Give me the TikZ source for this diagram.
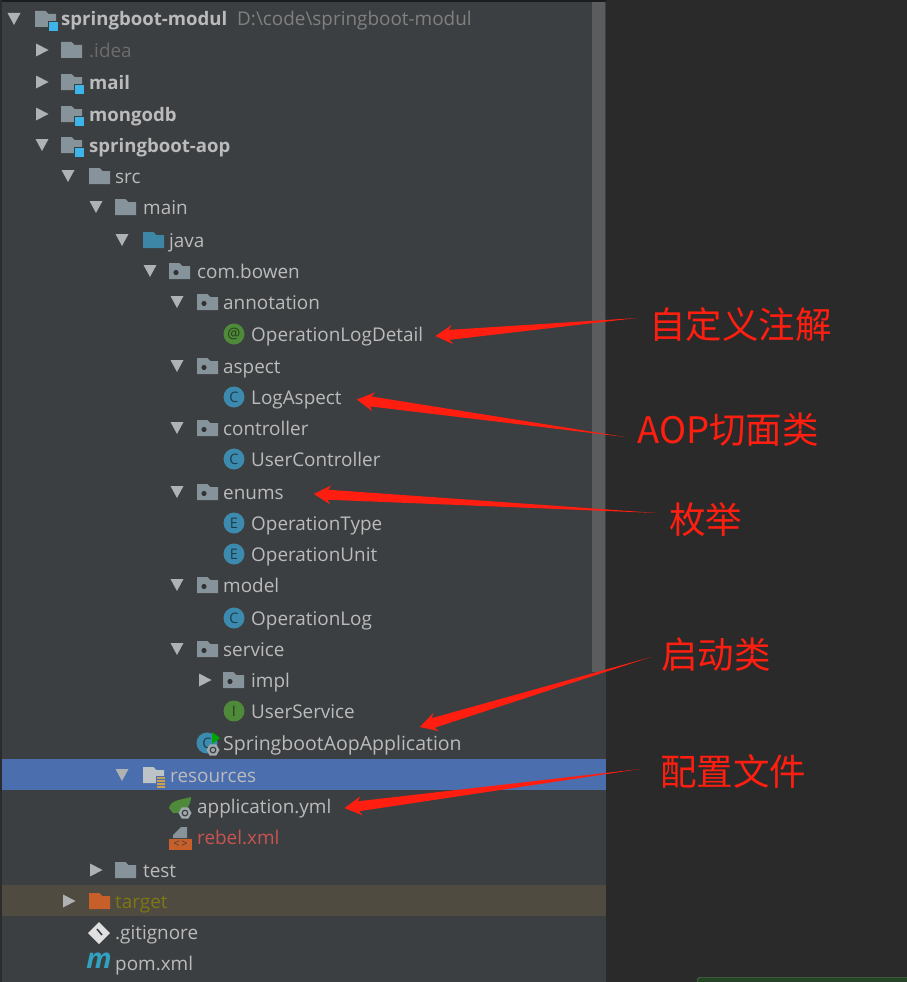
\documentclass[tikz,border=0pt]{standalone}
\usepackage{fontspec}
\setmainfont{Open Sans}
\newfontfamily\cjk{Noto Sans CJK SC}
\usetikzlibrary{calc}

\definecolor{panelbg}{HTML}{3C3F41}
\definecolor{editorbg}{HTML}{2A2A2A}
\definecolor{barcol}{HTML}{5A5C5E}
\definecolor{selrow}{HTML}{4B6EAF}
\definecolor{ignrow}{HTML}{4F4B41}
\definecolor{treecol}{HTML}{BBBBBB}
\definecolor{foldcol}{HTML}{87939A}
\definecolor{modcol}{HTML}{3DB5E8}
\definecolor{srccol}{HTML}{3D86A6}
\definecolor{orangecol}{HTML}{C75F2A}
\definecolor{greencol}{HTML}{4E8A3A}
\definecolor{bluecol}{HTML}{3C8AAE}
\definecolor{arrowred}{HTML}{FF1E10}
\definecolor{triancol}{HTML}{AFB1B3}
\definecolor{rebelcol}{HTML}{C75450}
\definecolor{stackcol}{HTML}{C8A050}

\tikzset{
  treetext/.style={anchor=base west,inner sep=0pt,yshift=-1pt,text=treecol,font=\fontsize{18.9}{20}\selectfont},
  boldtext/.style={treetext,font=\fontsize{18.6}{20}\selectfont\bfseries},
  redlabel/.style={anchor=west,inner sep=0pt,text=arrowred,font=\fontsize{36.5}{38}\selectfont\cjk},
  pics/opened/.style={code={\fill[triancol] (-6.5,-6) -- (6.5,-6) -- (0,6) -- cycle;}},
  pics/closed/.style={code={\fill[triancol] (-6,-6.5) -- (-6,6.5) -- (6.5,0) -- cycle;}},
  pics/folder/.style={code={\fill[#1] (-10.5,-8) -- (0,-8) -- (3,-5) -- (10.5,-5) -- (10.5,8) -- (-10.5,8) -- cycle;}},
  pics/folder/.default=foldcol,
  pics/module/.style={code={\pic {folder};
    \fill[panelbg] (2.5,2) rectangle (13,13);
    \fill[modcol] (3.5,3) rectangle (12,12);}},
  pics/package/.style={code={\pic {folder};
    \fill[panelbg!80!black] (-3.5,1.5) circle (2.6);}},
  pics/resfolder/.style={code={\pic {folder=foldcol!55!white};
    \fill[selrow] (2,1) rectangle (12,14);
    \foreach \yy in {2,5,8,11} \fill[stackcol] (3.5,\yy) rectangle (11.5,\yy+2);}},
  pics/badge/.style 2 args={code={\fill[#1] (0,0) circle (10.5);
    \node[inner sep=0pt,text=#1!45!black,font=\fontsize{14.5}{15}\selectfont] at (0,0) {#2};}},
  pics/gearmark/.style={code={\fill[foldcol!80!white] (0:6.5) -- (60:6.5) -- (120:6.5) -- (180:6.5) -- (240:6.5) -- (300:6.5) -- cycle;
    \draw[panelbg,line width=1.2pt] (0,0) circle (2.8);}}
}

% tapered red arrow, tail end first
\newcommand{\redarrow}[2]{
  \fill[arrowred] (#1) -- ($(#2)!14pt!(#1)!5pt!90:(#1)$) -- ($(#2)!17pt!(#1)!9.5pt!90:(#1)$) -- (#2)
    -- ($(#2)!17pt!(#1)!9.5pt!-90:(#1)$) -- ($(#2)!14pt!(#1)!5pt!-90:(#1)$) -- cycle;
}

\begin{document}
\begin{tikzpicture}[x=1pt,y=-1pt]
    \useasboundingbox (0,0) rectangle (907,982);
    \fill[editorbg] (0,0) rectangle (907,982);
    \fill[panelbg] (0,0) rectangle (606,982);
    \fill[black!55!panelbg] (0,0) rectangle (606,2);
    \fill[black!30!panelbg] (0,0) rectangle (2,982);
    \fill[barcol] (592,2) rectangle (605,672);
    \fill[selrow] (2,759) rectangle (606,790);
    \fill[ignrow] (2,885) rectangle (606,916);
    \draw[fill=green!12!editorbg,draw=green!22!gray,rounded corners=2pt] (697.5,977.5) rectangle (912,990);

    % project tree
    \pic at (14,19) {opened}; \pic at (45.5,19) {module};
    \node[boldtext] (root) at (61,25) {springboot-modul};
    \node[treetext,text=gray] (rootpath) at (237,25) {D:\textbackslash code\textbackslash springboot-modul};
    \pic at (42,50) {closed}; \pic at (71.5,50) {folder};
    \node[treetext,text=gray!85!black] (idea) at (89,56) {.idea};
    \pic at (42,82) {closed}; \pic at (71.5,82) {module};
    \node[boldtext] (mail) at (89,88) {mail};
    \pic at (42,114) {closed}; \pic at (71.5,114) {module};
    \node[boldtext] (mongodb) at (89,120) {mongodb};
    \pic at (42,145) {opened}; \pic at (71.5,145) {module};
    \node[boldtext] (aop) at (89,151) {springboot-aop};
    \pic at (68,176) {opened}; \pic at (99.5,176) {folder};
    \node[treetext] (src) at (115,182) {src};
    \pic at (96,207) {opened}; \pic at (125.5,207) {folder};
    \node[treetext] (main) at (143,213) {main};
    \pic at (122,240) {opened}; \pic at (153.5,240) {folder=srccol};
    \node[treetext] (java) at (169,246) {java};
    \pic at (150,271) {opened}; \pic at (179.5,271) {package};
    \node[treetext] (bowen) at (197,277) {com.bowen};
    \pic at (177,302) {opened}; \pic at (207.5,302) {package};
    \node[treetext] (annotation) at (223,308) {annotation};
    \pic at (234,334) {badge={greencol}{@}};
    \node[treetext] (detail) at (251,340) {OperationLogDetail};
    \pic at (177,366) {opened}; \pic at (207.5,366) {package};
    \node[treetext] (aspect) at (223,372) {aspect};
    \pic at (234,397) {badge={bluecol}{C}};
    \node[treetext] (logaspect) at (251,403) {LogAspect};
    \pic at (177,428) {opened}; \pic at (207.5,428) {package};
    \node[treetext] (controller) at (223,434) {controller};
    \pic at (234,459) {badge={bluecol}{C}};
    \node[treetext] (usercontroller) at (251,465) {UserController};
    \pic at (177,492) {opened}; \pic at (207.5,492) {package};
    \node[treetext] (enums) at (223,498) {enums};
    \pic at (234,523) {badge={bluecol}{E}};
    \node[treetext] (optype) at (251,529) {OperationType};
    \pic at (234,554) {badge={bluecol}{E}};
    \node[treetext] (opunit) at (251,560) {OperationUnit};
    \pic at (177,585) {opened}; \pic at (207.5,585) {package};
    \node[treetext] (model) at (223,591) {model};
    \pic at (234,618) {badge={bluecol}{C}};
    \node[treetext] (oplog) at (251,624) {OperationLog};
    \pic at (177,649) {opened}; \pic at (207.5,649) {package};
    \node[treetext] (service) at (223,655) {service};
    \pic at (205,680) {closed}; \pic at (233.5,680) {package};
    \node[treetext] (impl) at (251,686) {impl};
    \pic at (234,711) {badge={greencol}{I}};
    \node[treetext] (userservice) at (251,717) {UserService};
    \pic at (207,743) {badge={bluecol}{C}};
    \fill[green!65!black] (212,732) -- (220,738) -- (212,744) -- cycle;
    \pic at (213,750) {gearmark};
    \node[treetext,font=\fontsize{19.5}{20}\selectfont] (app) at (223,749) {SpringbootAopApplication};
    \pic at (122,775) {opened};
    \pic at (153.5,775) {resfolder};
    \node[treetext] (resources) at (170,781) {resources};
    \fill[greencol] (169,808) .. controls (171,800) and (180,800) .. (191,797) .. controls (191,806) and (184,814) .. (173,813) -- cycle;
    \pic at (185,813) {gearmark};
    \node[treetext] (yml) at (197,812) {application.yml};
    \fill[foldcol] (173,838) -- (173,835) -- (181,827) -- (187,827) -- (187,838) -- cycle;
    \fill[orangecol] (169,839) rectangle (192,850);
    \node[inner sep=0pt,text=panelbg,font=\fontsize{11}{11}\selectfont] (xmlmark) at (180.5,844) {<\,>};
    \node[treetext,text=rebelcol] (rebel) at (197,843) {rebel.xml};
    \pic at (96,870) {closed}; \pic at (125.5,870) {folder};
    \node[treetext] (test) at (143,876) {test};
    \pic at (69,901) {closed}; \pic at (99.5,901) {folder=orangecol};
    \node[treetext,text=olive!85!black] (target) at (115,907) {target};
    \fill[white!88!black] (99,922) -- (110,933) -- (99,944) -- (88,933) -- cycle;
    \draw[panelbg,line width=1.6pt] (97,929) -- (102,935);
    \node[treetext] (gitignore) at (115,938) {.gitignore};
    \node[inner sep=0pt,text=bluecol!80!cyan,font=\fontsize{28}{28}\selectfont\bfseries\itshape] (mvn) at (99,961) {m};
    \node[treetext] (pom) at (115,969) {pom.xml};

    % red labels
    \node[redlabel] (lblNote) at (649,325) {自定义注解};
    \node[redlabel] (lblAop) at (637,430) {AOP切面类};
    \node[redlabel] (lblEnum) at (669,520) {枚举};
    \node[redlabel] (lblBoot) at (661,655) {启动类};
    \node[redlabel] (lblConf) at (660,771) {配置文件};

    \coordinate (tailNote) at ([shift={(-12,-7)}]lblNote.west);
    \coordinate (tailAop) at ([shift={(-12,7)}]lblAop.west);
    \coordinate (tailEnum) at ([shift={(-12,-7)}]lblEnum.west);
    \coordinate (tailBoot) at ([shift={(-10,2)}]lblBoot.west);
    \coordinate (tailConf) at ([shift={(-20,-2)}]lblConf.west);
    \coordinate (tipNote) at ([shift={(12,0)}]detail.east);
    \coordinate (tipAop) at ([shift={(15,0)}]logaspect.east);
    \coordinate (tipEnum) at ([shift={(30,0)}]enums.east);
    \coordinate (tipBoot) at ([shift={(-42,-8)}]app.north east);
    \coordinate (tipConf) at ([shift={(13,0)}]yml.east);

    \redarrow{tailNote}{tipNote}
    \redarrow{tailAop}{tipAop}
    \redarrow{tailEnum}{tipEnum}
    \redarrow{tailBoot}{tipBoot}
    \redarrow{tailConf}{tipConf}
\end{tikzpicture}
\end{document}
